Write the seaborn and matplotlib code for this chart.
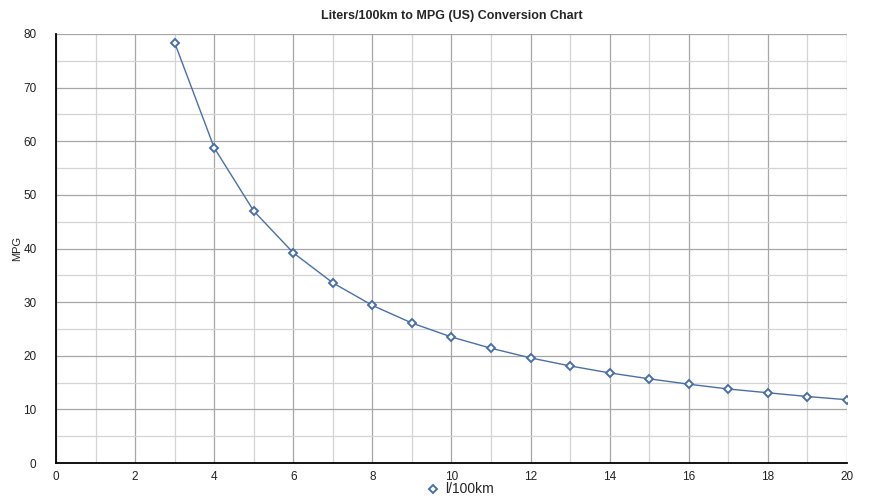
import matplotlib
matplotlib.use("Agg")
import matplotlib.pyplot as plt
import seaborn as sns
import pandas as pd

# fuel consumption (l/100km) and the MPG (US)
liters = [3, 4, 5, 6, 7, 8, 9, 10, 11, 12, 13, 14, 15, 16, 17, 18, 19, 20]
mpg = [78.4, 58.8, 47.0, 39.2, 33.6, 29.4, 26.1, 23.5, 21.4, 19.6,
       18.1, 16.8, 15.7, 14.7, 13.8, 13.1, 12.4, 11.8]
series_name = "l/100km"

df = pd.DataFrame({"x": liters, "y": mpg})

sns.set_style("white")
plt.rcParams["font.family"] = ["Liberation Sans", "DejaVu Sans"]

fig = plt.figure(figsize=(8.73, 4.99), dpi=100)
ax = fig.add_axes([0.0641, 0.0721, 0.9061, 0.8598])

blue = "#4a6fa8"
sns.lineplot(data=df, x="x", y="y", ax=ax, color=blue, linewidth=1.0,
             marker="D", markersize=4.0, markerfacecolor="white",
             markeredgecolor=blue, markeredgewidth=1.4, zorder=3)

ax.set_xlim(0, 20)
ax.set_ylim(0, 80)
ax.set_xticks(range(0, 21, 2))
ax.set_xticks(range(0, 21, 1), minor=True)
ax.set_yticks(range(0, 81, 10))
ax.set_yticks(range(0, 81, 5), minor=True)
ax.grid(which="major", color="#a6a6a6", linewidth=0.9)
ax.grid(which="minor", color="#d4d4d4", linewidth=0.9)
ax.set_axisbelow(True)
ax.tick_params(which="both", length=0, labelsize=8.5, colors="#222222")
ax.tick_params(axis="x", pad=6)
ax.tick_params(axis="y", pad=14)

for s in ["top", "right"]:
    ax.spines[s].set_visible(False)
for s in ["left", "bottom"]:
    ax.spines[s].set_color("black")
    ax.spines[s].set_linewidth(1.3)

ax.set_xlabel("")
ax.set_ylabel("MPG", fontsize=8, labelpad=1)
ax.set_title("Liters/100km to MPG (US) Conversion Chart", fontsize=9,
             fontweight="bold", pad=11)

handle = plt.Line2D([], [], linestyle="none", marker="D", markersize=4.5,
                    markerfacecolor="white", markeredgecolor=blue,
                    markeredgewidth=1.4)
fig.legend([handle], [series_name], loc="lower center",
           bbox_to_anchor=(0.527, -0.02), frameon=False, fontsize=10,
           handlelength=1.0, handletextpad=0.35)

fig.savefig("out.png", dpi=100)
